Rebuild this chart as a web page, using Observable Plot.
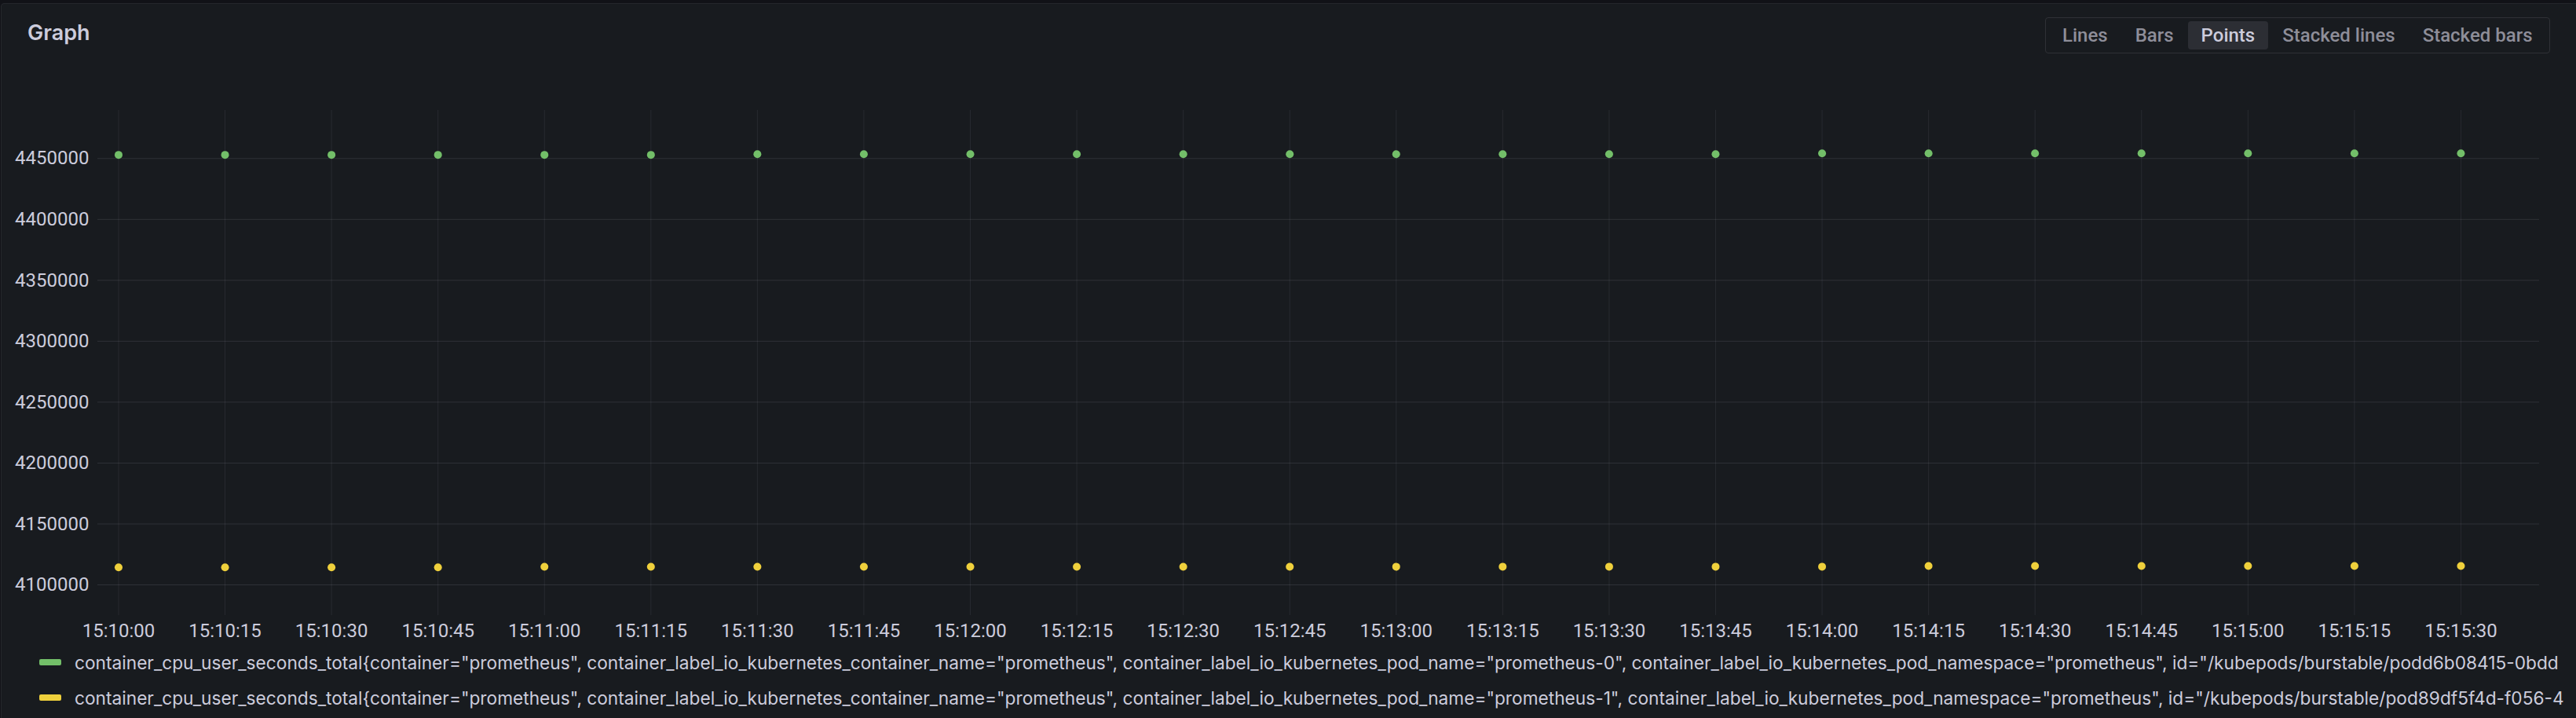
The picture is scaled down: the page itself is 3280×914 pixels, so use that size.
<!DOCTYPE html>
<html>
<head>
<meta charset="utf-8">
<script src="https://cdn.jsdelivr.net/npm/d3@7"></script>
<script src="https://cdn.jsdelivr.net/npm/@observablehq/plot@0.6"></script>
<style>
  html, body { margin: 0; padding: 0; background: #111217; width: 3280px; height: 914px; overflow: hidden; }
  #panel { position: absolute; left: 1px; top: 4px; width: 3290px; height: 920px; background: #181b1f;
           border: 1px solid #25272c; border-radius: 4px; box-sizing: border-box; }
  #title { position: absolute; left: 35px; top: 25px; font: 600 27px Inter, sans-serif; color: #ccccdc; }
  #modes { position: absolute; left: 2604px; top: 22px; height: 46px; box-sizing: border-box; border: 1px solid #2f3136;
           border-radius: 4px; display: flex; align-items: center; padding: 0 4px; gap: 1px; }
  .mode { font: 500 24px Roboto, sans-serif; color: #8e8e99; padding: 0 17px; height: 36px; line-height: 36px; border-radius: 4px; }
  .mode.active { background: #2c2e34; color: #ccccdc; }
  #chart { position: absolute; left: 0; top: 0; }
  .legend { position: absolute; left: 50px; height: 30px; display: flex; align-items: center; white-space: nowrap;
            font: 22.7px Inter, sans-serif; color: #ccccdc; }
  .sw { width: 28px; height: 8px; border-radius: 2px; margin-right: 17px; flex: none; }
</style>
</head>
<body>
<div id="panel"></div>
<div id="title">Graph</div>
<div id="modes"></div>
<div id="chart"></div>
<div id="legend"></div>
<script>
const times = ["15:10:00","15:10:15","15:10:30","15:10:45","15:11:00","15:11:15","15:11:30","15:11:45",
  "15:12:00","15:12:15","15:12:30","15:12:45","15:13:00","15:13:15","15:13:30","15:13:45",
  "15:14:00","15:14:15","15:14:30","15:14:45","15:15:00","15:15:15","15:15:30"];
const seriesNames = [
  'container_cpu_user_seconds_total{container="prometheus", container_label_io_kubernetes_container_name="prometheus", container_label_io_kubernetes_pod_name="prometheus-0", container_label_io_kubernetes_pod_namespace="prometheus", id="/kubepods/burstable/podd6b08415-0bdd',
  'container_cpu_user_seconds_total{container="prometheus", container_label_io_kubernetes_container_name="prometheus", container_label_io_kubernetes_pod_name="prometheus-1", container_label_io_kubernetes_pod_namespace="prometheus", id="/kubepods/burstable/pod89df5f4d-f056-4'
];
const seriesColors = ["#73bf69", "#efd03c"];
const pod0 = [4453000,4453000,4453000,4453000,4453000,4453000,4453550,4453550,4453550,4453550,4453550,4453550,
  4453550,4453550,4453550,4453550,4454200,4454200,4454200,4454200,4454200,4454200,4454200];
const pod1 = [4114400,4114400,4114400,4114400,4114800,4114800,4114800,4114800,4114800,4114800,4114800,4114800,
  4114900,4114900,4114900,4114900,4114900,4115500,4115500,4115500,4115500,4115500,4115500];
const yTicks = [4100000,4150000,4200000,4250000,4300000,4350000,4400000,4450000];
const xDomain = ["15:09:57.07", "15:15:41.07"];
const yDomain = [4074850, 4489530];
const modeLabels = ["Lines", "Bars", "Points", "Stacked lines", "Stacked bars"];
const activeMode = "Points";

const parseT = s => new Date("2023-01-01T" + s + "Z");
const tickDates = times.map(parseT);
const rows = [];
[pod0, pod1].forEach((vals, si) => vals.forEach((v, i) => rows.push({t: parseT(times[i]), v, s: si})));

const chart = Plot.plot({
  width: 3280,
  height: 830,
  marginTop: 140,
  marginBottom: 47,
  marginLeft: 124,
  marginRight: 47,
  style: {background: "transparent", color: "#ccccdc", fontFamily: "Roboto, sans-serif", fontSize: "24px"},
  x: {type: "utc", domain: xDomain.map(parseT), ticks: tickDates, tickFormat: d3.utcFormat("%H:%M:%S"), label: null},
  y: {domain: yDomain, ticks: yTicks, tickFormat: d => String(d), label: null},
  marks: [
    Plot.gridX(tickDates, {stroke: "#ccccdc", strokeOpacity: 0.09}),
    Plot.gridY(yTicks, {stroke: "#ccccdc", strokeOpacity: 0.13}),
    Plot.axisX(tickDates, {tickSize: 0, tickPadding: 10, tickFormat: d3.utcFormat("%H:%M:%S"), fill: "#ccccdc", label: null}),
    Plot.axisY(yTicks, {tickSize: 0, tickPadding: 11, tickFormat: d => String(d), fill: "#ccccdc", label: null}),
    Plot.dot(rows, {x: "t", y: "v", r: 5, fill: d => seriesColors[d.s], stroke: "none"})
  ]
});
document.getElementById("chart").appendChild(chart);

const modes = document.getElementById("modes");
modeLabels.forEach(m => {
  const d = document.createElement("div");
  d.className = "mode" + (m === activeMode ? " active" : "");
  d.textContent = m;
  modes.appendChild(d);
});

const legend = document.getElementById("legend");
seriesNames.forEach((name, i) => {
  const row = document.createElement("div");
  row.className = "legend";
  row.style.top = (828 + i * 45) + "px";
  const sw = document.createElement("div");
  sw.className = "sw";
  sw.style.background = seriesColors[i];
  const tx = document.createElement("span");
  tx.textContent = name;
  row.appendChild(sw);
  row.appendChild(tx);
  legend.appendChild(row);
});
</script>
</body>
</html>
